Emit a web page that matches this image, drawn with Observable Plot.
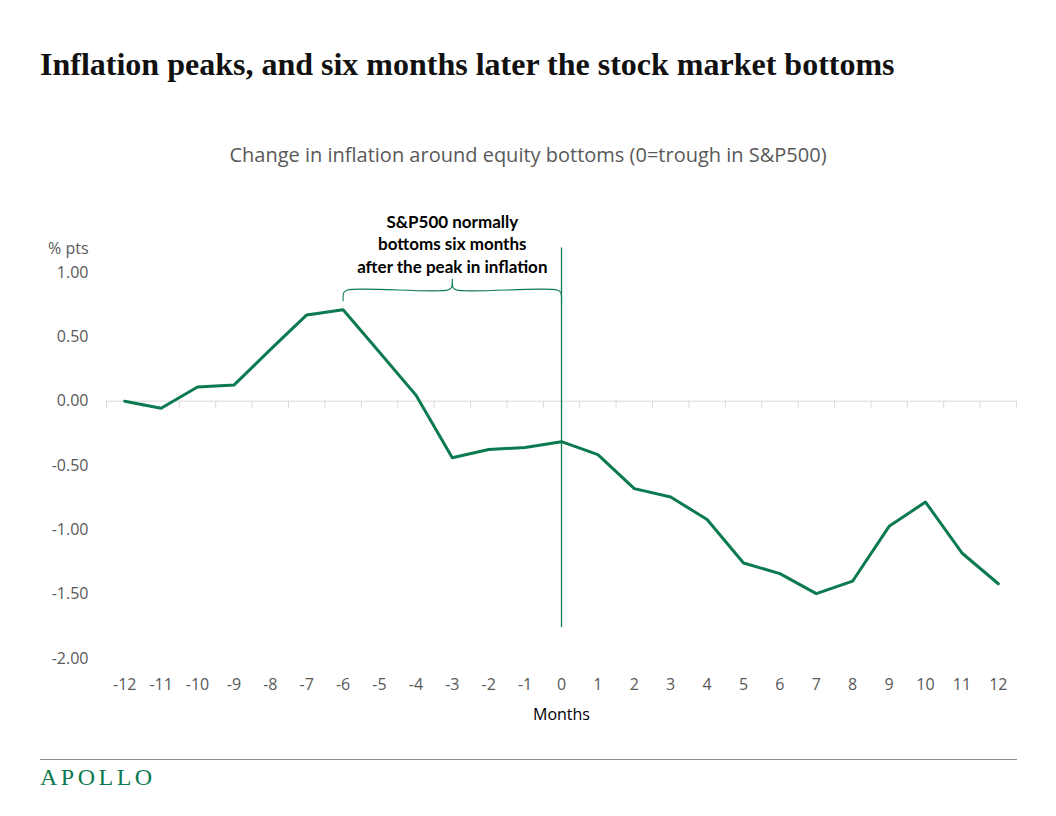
<!DOCTYPE html>
<html>
<head>
<meta charset="utf-8">
<script src="https://cdn.jsdelivr.net/npm/d3@7"></script>
<script src="https://cdn.jsdelivr.net/npm/@observablehq/plot@0.6"></script>
<style>
  html, body { margin: 0; padding: 0; background: #fff; }
  #page { position: relative; width: 1056px; height: 816px; overflow: hidden; }
  #title { position: absolute; left: 40px; top: 46px; font-family: "Liberation Serif", serif; font-weight: bold; font-size: 32px; color: #111; white-space: nowrap; }
  #subtitle { position: absolute; left: 0; width: 1056px; top: 141px; text-align: center; font-family: "Open Sans", sans-serif; font-size: 20px; color: #595959; }
  #chart { position: absolute; left: 0; top: 200px; }
  #rule { position: absolute; left: 40px; width: 977px; top: 759px; height: 0; border-top: 1px solid #8c8c8c; }
  #logo { position: absolute; left: 40px; top: 764px; font-family: "Liberation Serif", serif; font-size: 24px; letter-spacing: 3.5px; color: #0b7a4f; }
</style>
</head>
<body>
<div id="page">
  <div id="title">Inflation peaks, and six months later the stock market bottoms</div>
  <div id="subtitle">Change in inflation around equity bottoms (0=trough in S&amp;P500)</div>
  <div id="chart"></div>
  <div id="rule"></div>
  <div id="logo">APOLLO</div>
</div>
<script>
const months = [-12,-11,-10,-9,-8,-7,-6,-5,-4,-3,-2,-1,0,1,2,3,4,5,6,7,8,9,10,11,12];
const inflationChange = [0.00,-0.055,0.11,0.125,0.40,0.67,0.71,0.38,0.047,-0.44,-0.376,-0.36,-0.315,-0.415,-0.68,-0.745,-0.92,-1.258,-1.34,-1.496,-1.398,-0.973,-0.784,-1.18,-1.419];
const yTicks = [1.0, 0.5, 0.0, -0.5, -1.0, -1.5, -2.0];
const annotationText = "S&P500 normally\nbottoms six months\nafter the peak in inflation";
const troughMonth = 0;
const peakMonth = -6;

const green = "#0b7a4f";
const data = months.map((m, i) => ({month: m, value: inflationChange[i]}));
const boundaries = months.map(m => m - 0.5).concat([months[months.length - 1] + 0.5]);

// curly brace from peak month to trough month
const braceY = 0.864, braceEnd = 0.78, braceNub = 0.95;
const mid = (peakMonth + troughMonth) / 2;
const brace = [
  {x: peakMonth, y: braceEnd},
  {x: peakMonth + 0.02, y: braceY - 0.02},
  {x: peakMonth + 0.12, y: braceY},
  {x: mid - 0.12, y: braceY},
  {x: mid - 0.02, y: braceY + 0.02},
  {x: mid, y: braceNub},
  {x: mid + 0.02, y: braceY + 0.02},
  {x: mid + 0.12, y: braceY},
  {x: troughMonth - 0.12, y: braceY},
  {x: troughMonth - 0.02, y: braceY - 0.02},
  {x: troughMonth, y: braceEnd}
];

const font = '"Open Sans", sans-serif';
const chart = Plot.plot({
  width: 1056,
  height: 530,
  marginLeft: 106,
  marginRight: 40,
  marginTop: 72,
  marginBottom: 72,
  style: {fontFamily: font, fontSize: "16px", color: "#595959", background: "transparent"},
  x: {domain: [months[0] - 0.5, months[months.length - 1] + 0.5]},
  y: {domain: [-2, 1]},
  marks: [
    Plot.axisY({ticks: yTicks, tickFormat: d => d.toFixed(2), tickSize: 0, tickPadding: 18, label: null, fill: "#595959", fontSize: 16}),
    Plot.axisX({ticks: months, tickFormat: d => String(d), tickSize: 0, tickPadding: 20, label: null, fill: "#595959", fontSize: 16}),
    Plot.ruleY([0], {stroke: "#d9d9d9", strokeWidth: 1}),
    Plot.ruleX(boundaries, {x: d => d, y1: 0, y2: -0.055, stroke: "#d9d9d9", strokeWidth: 1}),
    Plot.ruleX([troughMonth], {y1: 1.19, y2: -1.76, stroke: green, strokeWidth: 1.3}),
    Plot.line(brace, {x: "x", y: "y", stroke: green, strokeWidth: 1.1, curve: "catmull-rom"}),
    Plot.line(data, {x: "month", y: "value", stroke: green, strokeWidth: 3, strokeLinejoin: "round"}),
    Plot.text([annotationText], {x: mid, frameAnchor: "top", lineAnchor: "top", dy: -61, lineHeight: 1.33, fontSize: 17, fontWeight: "bold", fill: "#000", fontFamily: "Lato, sans-serif"}),
    Plot.text(["% pts"], {frameAnchor: "top-left", textAnchor: "end", dx: -18, dy: -30, fontSize: 16, fill: "#595959"}),
    Plot.text(["Months"], {frameAnchor: "bottom", dy: 61, fontSize: 16, fill: "#000"})
  ]
});
document.getElementById("chart").appendChild(chart);
</script>
</body>
</html>
